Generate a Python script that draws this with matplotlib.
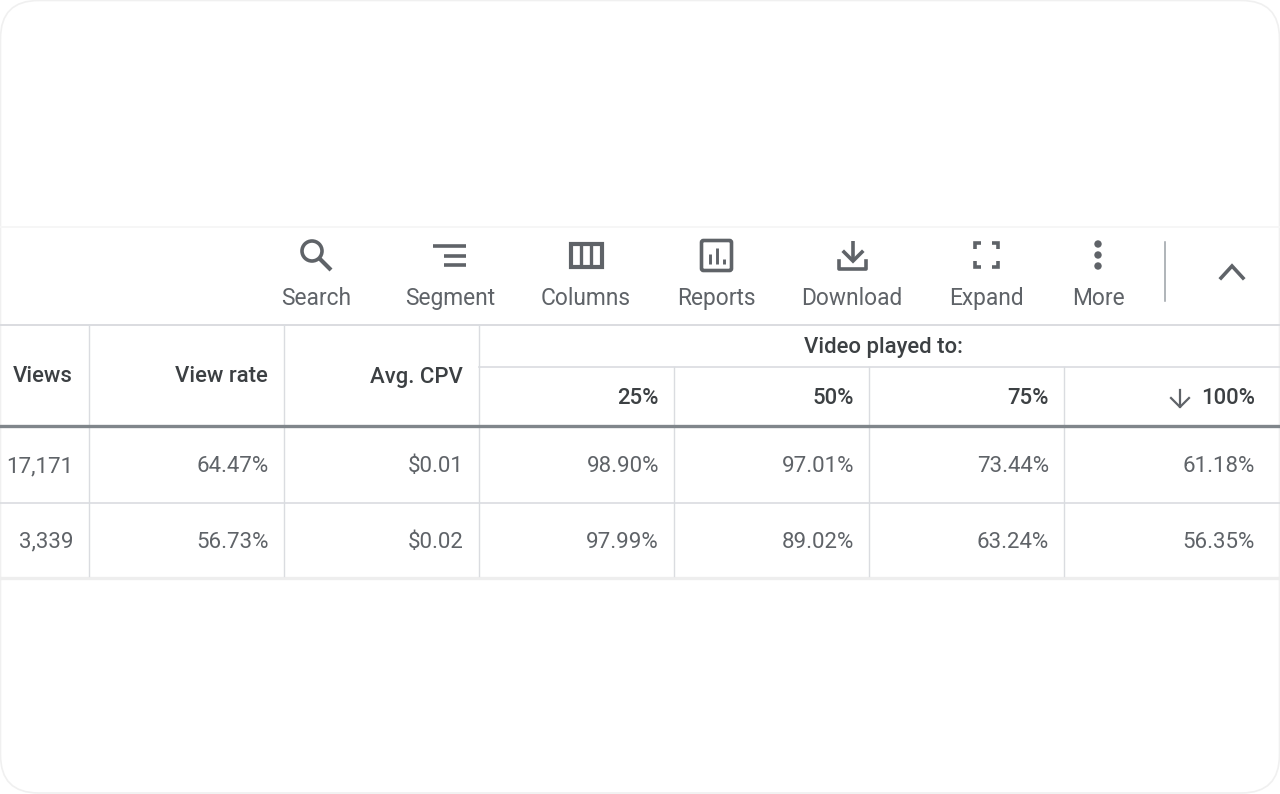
import numpy as np
from matplotlib import pyplot as plt
from matplotlib.patches import FancyBboxPatch, Rectangle, Circle

plt.rcParams['font.family'] = ['Roboto', 'DejaVu Sans']

# table content
views = ['17,171', '3,339']
view_rate = ['64.47%', '56.73%']
avg_cpv = ['$0.01', '$0.02']
played_25 = ['98.90%', '97.99%']
played_50 = ['97.01%', '89.02%']
played_75 = ['73.44%', '63.24%']
played_100 = ['61.18%', '56.35%']
played_headers = ['25%', '50%', '75%', '100%']
toolbar_labels = ['Search', 'Segment', 'Columns', 'Reports', 'Download', 'Expand', 'More']

W, H = 1280, 794
icon_col = '#5f6368'
head_col = '#3c4043'
cell_col = '#5f6368'
line_col = '#dadce0'

fig = plt.figure(figsize=(W / 100, H / 100), dpi=100)
ax = fig.add_axes([0, 0, 1, 1])
ax.set_xlim(0, W)
ax.set_ylim(H, 0)
ax.axis('off')

# rounded white card
ax.add_patch(FancyBboxPatch((0.5, 0.5), W - 1, H - 1.5, boxstyle='round,pad=0,rounding_size=38',
                            fc='white', ec='#f0f0f0', lw=1.2))

# horizontal rules
ax.plot([0, W], [227, 227], color='#f6f6f6', lw=1.3)
ax.plot([0, W], [324.5, 324.5], color=line_col, lw=1.4)
ax.plot([479, W], [366.5, 366.5], color=line_col, lw=1.2)
ax.plot([0, W], [426, 426], color='#80868b', lw=2.4, zorder=3)
ax.plot([0, W], [503, 503], color=line_col, lw=1.2)
ax.plot([0, W], [577.5, 577.5], color='#eeeeee', lw=2.4)

# vertical rules
for x in [88.5, 283.5, 478.5]:
    ax.plot([x, x], [325, 576], color=line_col, lw=1)
for x in [673.5, 868.5, 1063.5]:
    ax.plot([x, x], [367, 576], color=line_col, lw=1)
ax.plot([1165, 1165], [242, 301], color='#9aa0a6', lw=1.1)

# toolbar labels
label_x = [316, 450, 586, 716, 852, 986, 1098]
for x, s in zip(label_x, toolbar_labels):
    ax.text(x, 305, s, ha='center', va='baseline', fontsize=16.4, color=icon_col)

# search icon
ax.add_patch(Circle((312, 251), 10, fc='none', ec=icon_col, lw=2.6))
ax.plot([319, 331], [258, 270], color=icon_col, lw=3, solid_capstyle='butt')

# segment icon
ax.plot([433, 466], [245.5, 245.5], color=icon_col, lw=2.6, solid_capstyle='butt')
ax.plot([444, 466], [255.5, 255.5], color=icon_col, lw=2.6, solid_capstyle='butt')
ax.plot([444, 466], [264.5, 264.5], color=icon_col, lw=2.6, solid_capstyle='butt')

# columns icon
ax.add_patch(Rectangle((570.5, 243.5), 31, 23, fc='none', ec=icon_col, lw=3))
ax.plot([580.5, 580.5], [244, 266], color=icon_col, lw=2.4, solid_capstyle='butt')
ax.plot([591, 591], [244, 266], color=icon_col, lw=2.4, solid_capstyle='butt')

# reports icon
ax.add_patch(FancyBboxPatch((701.5, 240.5), 30, 30, boxstyle='round,pad=0,rounding_size=2',
                            fc='none', ec=icon_col, lw=2.6))
ax.plot([709.5, 709.5], [254, 264], color=icon_col, lw=2.1, solid_capstyle='butt')
ax.plot([716.5, 716.5], [248, 264], color=icon_col, lw=2.1, solid_capstyle='butt')
ax.plot([723.5, 723.5], [259, 264], color=icon_col, lw=2.1, solid_capstyle='butt')

# download icon
ax.plot([853, 853], [241, 260], color=icon_col, lw=2.6, solid_capstyle='butt')
ax.plot([844, 853, 862], [252, 261, 252], color=icon_col, lw=2.6, solid_joinstyle='miter')
ax.plot([839, 839, 866, 866], [261, 268.5, 268.5, 261], color=icon_col, lw=2.6, solid_joinstyle='round')

# expand icon
for sx, sy in [(975, 243), (997.5, 243), (975, 267), (997.5, 267)]:
    dx = 6 if sx < 986 else -6
    dy = 6 if sy < 255 else -6
    ax.plot([sx + dx, sx, sx], [sy, sy, sy + dy], color=icon_col, lw=2.6,
            solid_capstyle='butt', solid_joinstyle='miter')

# more icon
for y in [244, 255, 266]:
    ax.add_patch(Circle((1098, y), 3.7, fc=icon_col, ec='none'))

# collapse chevron
ax.plot([1221, 1232, 1243], [278, 266, 278], color=icon_col, lw=2.6, solid_joinstyle='miter')

# header texts
head_size = 15.9
ax.text(73, 382.5, 'Views', ha='right', va='baseline', fontsize=head_size, color=head_col, fontweight='medium')
ax.text(268, 382.5, 'View rate', ha='right', va='baseline', fontsize=head_size, color=head_col, fontweight='medium')
ax.text(463, 382.5, 'Avg. CPV', ha='right', va='baseline', fontsize=head_size, color=head_col, fontweight='medium')
ax.text(883, 353.5, 'Video played to:', ha='center', va='baseline', fontsize=head_size, color=head_col, fontweight='medium')

played_right = [659, 854, 1049, 1255]
for x, s in zip(played_right, played_headers):
    ax.text(x, 404.5, s, ha='right', va='baseline', fontsize=head_size, color=head_col, fontweight='medium')

# sort arrow next to 100%
ax.plot([1180, 1180], [390, 407], color=icon_col, lw=1.6)
ax.plot([1171, 1180, 1189], [398, 407, 398], color=icon_col, lw=1.6)

# table body
columns = [views, view_rate, avg_cpv, played_25, played_50, played_75, played_100]
right_edges = [73, 269, 464, 659, 854, 1049, 1255]
row_y = [472.5, 547.5]
for x, col in zip(right_edges, columns):
    for y, s in zip(row_y, col):
        ax.text(x, y, s, ha='right', va='baseline', fontsize=16, color=cell_col)

fig.savefig('out.png', dpi=100)
